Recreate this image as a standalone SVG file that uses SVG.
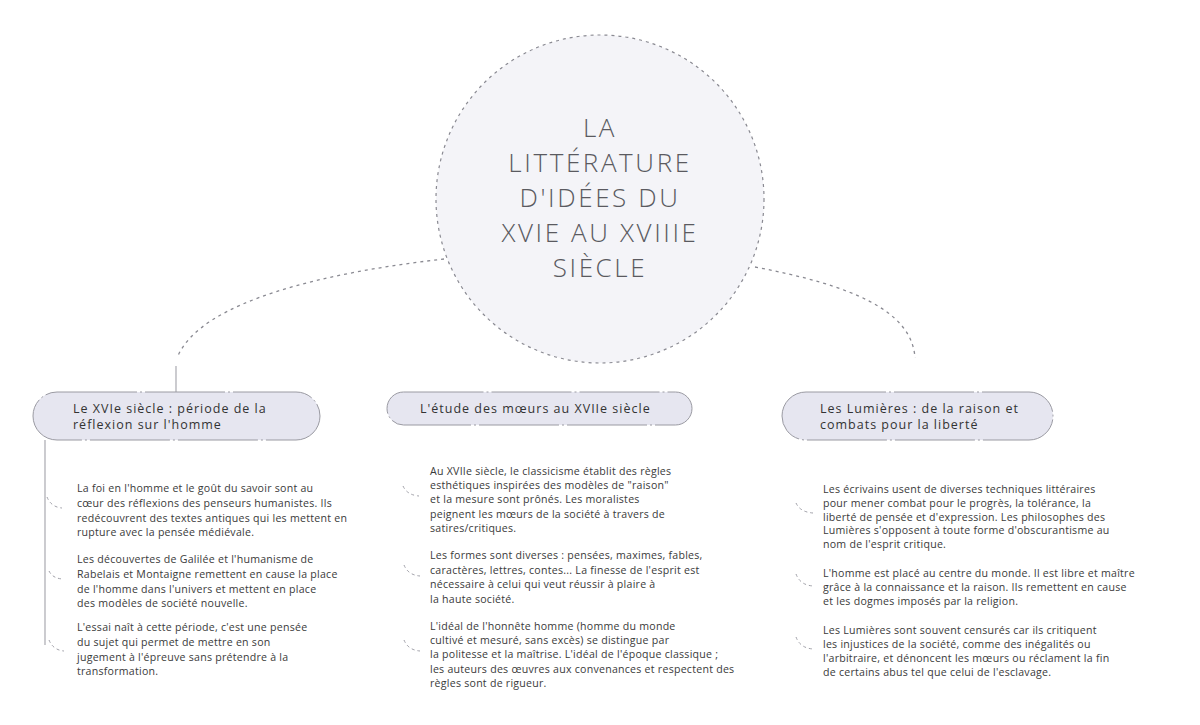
<svg xmlns="http://www.w3.org/2000/svg" width="1200" height="725" viewBox="0 0 1200 725">
<style>
.title{font-family:"Open Sans","Liberation Sans",sans-serif;font-weight:300;font-size:26px;fill:#5a5a60;letter-spacing:2.6px;text-anchor:middle}
.hdr{fill:#e6e6f0;stroke:#9a9aa2;stroke-width:1;stroke-dasharray:80 3 2 3}
.htxt{font-family:"Open Sans","Liberation Sans",sans-serif;font-size:12.5px;fill:#333;letter-spacing:1px}
.txt{font-family:"Open Sans","Liberation Sans",sans-serif;font-size:10.6px;fill:#3a3a3a;letter-spacing:0.25px}
.dot{fill:none;stroke:#8a8a92;stroke-width:1.3;stroke-dasharray:3 4}
.sol{fill:none;stroke:#b0b0b6;stroke-width:1.3}
.tick{fill:none;stroke:#a0a0a8;stroke-width:1;stroke-dasharray:3 3}
</style>
<rect width="1200" height="725" fill="#ffffff"/>
<g id="connectors">
<path class="dot" d="M444,259 C330,272 200,300 177,358"/>
<line class="sol" x1="176" y1="366" x2="176" y2="392"/>
<path class="dot" d="M755,267 C850,285 912,310 915,358"/>
<line class="sol" x1="45" y1="440" x2="45" y2="645"/>
<path class="tick" d="M47,497 Q51,507 62,508"/>
<path class="tick" d="M49,571 Q53,579 64,579"/>
<path class="tick" d="M49,640 Q53,650 64,651"/>
<path class="tick" d="M403,486 Q407,495 419,496"/>
<path class="tick" d="M404,565 Q408,575 420,576"/>
<path class="tick" d="M404,640 Q408,650 420,651"/>
<path class="tick" d="M796,503 Q800,512 813,513"/>
<path class="tick" d="M796,574 Q800,585 813,586"/>
<path class="tick" d="M796,637 Q800,648 813,649"/>
</g>
<g id="center">
<circle cx="600" cy="199" r="164" fill="#f4f4f8" stroke="#8a8a92" stroke-width="1.2" stroke-dasharray="3 4"/>
<text class="title" x="600" y="137">LA</text>
<text class="title" x="600" y="172">LITTÉRATURE</text>
<text class="title" x="600" y="207">D'IDÉES DU</text>
<text class="title" x="600" y="242">XVIE AU XVIIIE</text>
<text class="title" x="600" y="277">SIÈCLE</text>
</g>
<g id="node-xvi">
<rect class="hdr" x="33" y="392" width="287" height="48" rx="24"/>
<text class="htxt" x="73" y="413">Le XVIe siècle : période de la</text>
<text class="htxt" x="73" y="429">réflexion sur l'homme</text>
</g>
<g id="node-xvii">
<rect class="hdr" x="387" y="392" width="305" height="33" rx="16.5"/>
<text class="htxt" x="420" y="413">L'étude des mœurs au XVIIe siècle</text>
</g>
<g id="node-xviii">
<rect class="hdr" x="782" y="392" width="271" height="48" rx="24"/>
<text class="htxt" x="820" y="413">Les Lumières : de la raison et</text>
<text class="htxt" x="820" y="429">combats pour la liberté</text>
</g>
<g id="xvi-1">
<text class="txt" x="77" y="492"><tspan x="77">La foi en l'homme et le goût du savoir sont au</tspan><tspan x="77" dy="14.8">cœur des réflexions des penseurs humanistes. Ils</tspan><tspan x="77" dy="14.8">redécouvrent des textes antiques qui les mettent en</tspan><tspan x="77" dy="14.8">rupture avec la pensée médiévale.</tspan></text>
</g>
<g id="xvi-2">
<text class="txt" x="77" y="563"><tspan x="77">Les découvertes de Galilée et l'humanisme de</tspan><tspan x="77" dy="14.8">Rabelais et Montaigne remettent en cause la place</tspan><tspan x="77" dy="14.8">de l'homme dans l'univers et mettent en place</tspan><tspan x="77" dy="14.8">des modèles de société nouvelle.</tspan></text>
</g>
<g id="xvi-3">
<text class="txt" x="77" y="631"><tspan x="77">L'essai naît à cette période, c'est une pensée</tspan><tspan x="77" dy="14.8">du sujet qui permet de mettre en son</tspan><tspan x="77" dy="14.8">jugement à l'épreuve sans prétendre à la</tspan><tspan x="77" dy="14.8">transformation.</tspan></text>
</g>
<g id="xvii-1">
<text class="txt" x="430" y="475"><tspan x="430">Au XVIIe siècle, le classicisme établit des règles</tspan><tspan x="430" dy="14.2">esthétiques inspirées des modèles de "raison"</tspan><tspan x="430" dy="14.2">et la mesure sont prônés. Les moralistes</tspan><tspan x="430" dy="14.2">peignent les mœurs de la société à travers de</tspan><tspan x="430" dy="14.2">satires/critiques.</tspan></text>
</g>
<g id="xvii-2">
<text class="txt" x="430" y="559"><tspan x="430">Les formes sont diverses : pensées, maximes, fables,</tspan><tspan x="430" dy="14.5">caractères, lettres, contes... La finesse de l'esprit est</tspan><tspan x="430" dy="14.5">nécessaire à celui qui veut réussir à plaire à</tspan><tspan x="430" dy="14.5">la haute société.</tspan></text>
</g>
<g id="xvii-3">
<text class="txt" x="430" y="630"><tspan x="430">L'idéal de l'honnête homme (homme du monde</tspan><tspan x="430" dy="14.2">cultivé et mesuré, sans excès) se distingue par</tspan><tspan x="430" dy="14.2">la politesse et la maîtrise. L'idéal de l'époque classique ;</tspan><tspan x="430" dy="14.2">les auteurs des œuvres aux convenances et respectent des</tspan><tspan x="430" dy="14.2">règles sont de rigueur.</tspan></text>
</g>
<g id="xviii-1">
<text class="txt" x="823" y="493"><tspan x="823">Les écrivains usent de diverses techniques littéraires</tspan><tspan x="823" dy="13.8">pour mener combat pour le progrès, la tolérance, la</tspan><tspan x="823" dy="13.8">liberté de pensée et d'expression. Les philosophes des</tspan><tspan x="823" dy="13.8">Lumières s'opposent à toute forme d'obscurantisme au</tspan><tspan x="823" dy="13.8">nom de l'esprit critique.</tspan></text>
</g>
<g id="xviii-2">
<text class="txt" x="823" y="577"><tspan x="823">L'homme est placé au centre du monde. Il est libre et maître</tspan><tspan x="823" dy="13.8">grâce à la connaissance et la raison. Ils remettent en cause</tspan><tspan x="823" dy="13.8">et les dogmes imposés par la religion.</tspan></text>
</g>
<g id="xviii-3">
<text class="txt" x="823" y="634"><tspan x="823">Les Lumières sont souvent censurés car ils critiquent</tspan><tspan x="823" dy="14">les injustices de la société, comme des inégalités ou</tspan><tspan x="823" dy="14">l'arbitraire, et dénoncent les mœurs ou réclament la fin</tspan><tspan x="823" dy="14">de certains abus tel que celui de l'esclavage.</tspan></text>
</g>
</svg>
